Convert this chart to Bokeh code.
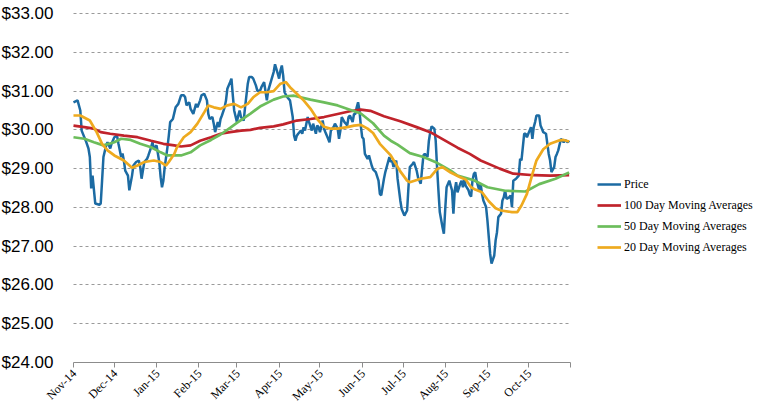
from math import pi
import pandas as pd
from bokeh.plotting import figure
from bokeh.models import (FixedTicker, Legend, LegendItem, Range1d, ColumnDataSource, Grid)
from bokeh.core.properties import value
from bokeh.embed import file_html
from bokeh.resources import INLINE

# ---------------- data ----------------
start_date = "2014-11-01"
month_starts = ["2014-11-01", "2014-12-01", "2015-01-01", "2015-02-01", "2015-03-01",
                "2015-04-01", "2015-05-01", "2015-06-01", "2015-07-01", "2015-08-01",
                "2015-09-01", "2015-10-01", "2015-11-01"]
month_labels = ["Nov-14", "Dec-14", "Jan-15", "Feb-15", "Mar-15", "Apr-15", "May-15",
                "Jun-15", "Jul-15", "Aug-15", "Sep-15", "Oct-15", ""]
y_ticks = [24, 25, 26, 27, 28, 29, 30, 31, 32, 33]
y_labels = ["$%.2f" % v for v in y_ticks]

# days since 2014-11-01
price_day = [0, 3, 5, 6, 9, 11, 12, 13, 14, 16,
             19, 20, 21, 22, 24, 25, 27, 28, 30, 32,
             33, 35, 36, 37, 38, 40, 41, 43, 44, 46,
             48, 49, 50, 52, 54, 55, 57, 58, 59, 61,
             63, 64, 65, 66, 67, 69, 70, 71, 73, 75,
             77, 79, 81, 82, 83, 85, 86, 88, 90, 91,
             93, 94, 96, 98, 99, 100, 102, 103, 104, 106,
             107, 108, 109, 111, 112, 113, 115, 116, 117, 118,
             120, 121, 122, 123, 125, 126, 128, 129, 131, 132,
             134, 135, 137, 138, 140, 142, 143, 145, 147, 148,
             150, 151, 152, 153, 154, 155, 157, 159, 161, 162,
             163, 164, 165, 167, 168, 169, 170, 172, 173, 175,
             176, 178, 179, 180, 181, 183, 184, 185, 187, 188,
             189, 191, 192, 194, 195, 196, 197, 199, 200, 201,
             202, 203, 205, 206, 207, 208, 209, 210, 211, 212,
             213, 214, 216, 217, 218, 219, 220, 222, 224, 225,
             226, 228, 229, 231, 232, 233, 234, 235, 237, 238,
             240, 241, 243, 245, 246, 247, 249, 250, 252, 253,
             255, 256, 257, 258, 260, 261, 262, 263, 265, 266,
             267, 268, 269, 271, 272, 273, 274, 276, 277, 278,
             279, 280, 281, 282, 284, 285, 286, 287, 288, 290,
             291, 292, 293, 294, 295, 296, 298, 299, 300, 301,
             303, 304, 305, 306, 307, 309, 310, 311, 312, 314,
             315, 316, 317, 318, 320, 321, 322, 323, 325, 326,
             327, 328, 329, 331, 332, 333, 334, 336, 337, 338,
             339, 340, 342, 343, 344, 345, 347, 348, 349, 350,
             351, 353, 354, 355, 356, 358, 359, 360, 361, 363,
             364]
price = [30.71, 30.76, 30.50, 29.98, 29.72, 29.52, 29.30, 28.49, 28.82, 28.10,
         28.07, 28.10, 28.69, 29.30, 29.60, 29.68, 29.52, 29.65, 29.81, 29.85,
         29.65, 29.30, 29.39, 29.21, 28.95, 28.82, 28.44, 28.82, 29.08, 29.17,
         29.21, 29.04, 28.74, 29.17, 29.25, 29.34, 29.55, 29.68, 29.51, 29.60,
         29.17, 28.78, 28.52, 28.69, 29.04, 29.55, 29.85, 30.20, 30.28, 30.58,
         30.67, 30.89, 30.89, 30.84, 30.63, 30.71, 30.54, 30.41, 30.67, 30.58,
         30.76, 30.89, 30.93, 30.76, 30.41, 30.28, 30.33, 30.16, 29.94, 30.20,
         30.07, 30.28, 30.37, 30.58, 30.76, 31.06, 31.23, 31.32, 30.89, 30.50,
         30.20, 30.37, 30.50, 30.33, 30.24, 30.58, 31.19, 31.36, 31.36, 31.32,
         31.14, 31.01, 31.01, 31.10, 31.23, 30.76, 31.01, 31.25, 31.49, 31.69,
         31.45, 31.32, 31.53, 31.66, 31.40, 30.97, 30.84, 30.76, 30.33, 29.85,
         29.72, 29.85, 29.90, 29.98, 29.90, 30.07, 29.98, 30.33, 30.20, 29.98,
         30.16, 29.90, 30.11, 30.07, 29.94, 30.24, 30.03, 29.94, 29.77, 29.68,
         29.98, 30.07, 30.16, 30.03, 29.77, 29.98, 30.33, 30.20, 30.16, 30.11,
         30.33, 30.37, 30.20, 30.41, 30.41, 30.58, 30.71, 30.50, 30.11, 29.81,
         29.77, 29.38, 29.25, 29.34, 29.21, 29.08, 28.98, 28.91, 28.69, 28.35,
         28.31, 28.74, 28.91, 29.17, 29.30, 29.17, 29.21, 29.04, 29.21, 28.74,
         28.18, 27.96, 27.79, 27.92, 28.52, 29.04, 29.12, 29.17, 28.95, 28.78,
         28.61, 28.99, 29.34, 29.38, 29.30, 29.72, 29.94, 30.09, 30.03, 29.72,
         29.04, 28.44, 27.88, 27.49, 27.32, 27.96, 28.52, 28.69, 28.56, 28.44,
         27.84, 28.44, 28.65, 28.39, 28.61, 28.69, 28.52, 28.74, 28.56, 28.45,
         28.33, 28.28, 28.69, 28.86, 28.91, 28.69, 28.44, 28.61, 28.35, 28.18,
         28.01, 27.66, 27.23, 26.80, 26.55, 26.76, 27.15, 27.36, 27.75, 27.84,
         28.18, 28.26, 28.44, 28.22, 28.26, 28.31, 28.01, 28.69, 28.74, 28.78,
         28.82, 29.25, 29.21, 29.90, 29.90, 29.81, 29.90, 30.07, 29.77, 30.07,
         30.20, 30.37, 30.37, 30.11, 30.03, 29.94, 29.90, 29.64, 29.38, 29.21,
         28.91, 29.04, 29.30, 29.38, 29.47, 29.77, 29.72, 29.68, 29.74, 29.68,
         29.72]

ma100_day = [0, 8, 15, 20, 27, 37, 47, 57, 66, 74, 79, 86, 93, 101, 108, 115, 123, 130,
             137, 147, 154, 164, 174, 184, 194, 203, 211, 218, 228, 240, 252, 262, 272,
             282, 291, 299, 313, 323, 338, 350, 364]
ma100 = [30.11, 30.07, 30.03, 29.94, 29.90, 29.85, 29.81, 29.72, 29.64, 29.60, 29.57, 29.60,
         29.72, 29.81, 29.90, 29.94, 29.98, 30.00, 30.05, 30.09, 30.14, 30.24, 30.28, 30.33,
         30.41, 30.48, 30.52, 30.49, 30.35, 30.22, 30.07, 29.94, 29.74, 29.54, 29.38, 29.21,
         29.00, 28.87, 28.83, 28.82, 28.83]

ma50_day = [0, 8, 15, 22, 30, 35, 42, 49, 57, 64, 69, 79, 86, 93, 101, 108, 115, 120,
            130, 137, 147, 154, 162, 174, 184, 194, 203, 211, 220, 228, 233, 238, 247,
            257, 267, 277, 282, 294, 304, 317, 332, 342, 354, 364]
ma50 = [29.81, 29.77, 29.68, 29.60, 29.68, 29.77, 29.74, 29.64, 29.55, 29.42, 29.34, 29.34,
        29.42, 29.60, 29.74, 29.88, 30.05, 30.18, 30.42, 30.60, 30.78, 30.86, 30.88, 30.78,
        30.71, 30.63, 30.52, 30.42, 30.17, 29.85, 29.72, 29.62, 29.40, 29.30, 29.15, 28.95,
        28.82, 28.70, 28.52, 28.43, 28.41, 28.60, 28.74, 28.90]

ma20_day = [0, 5, 12, 17, 21, 25, 30, 37, 43, 47, 52, 59, 64, 68, 70, 74, 76, 81, 86,
            91, 96, 99, 103, 108, 113, 118, 123, 128, 132, 137, 142, 147, 152, 156, 159,
            164, 169, 174, 179, 184, 189, 194, 201, 206, 211, 216, 220, 225, 233, 240,
            245, 247, 255, 262, 267, 271, 277, 284, 288, 292, 295, 300, 305, 310, 314,
            322, 326, 329, 333, 337, 340, 345, 350, 356, 360, 364]
ma20 = [30.37, 30.37, 30.24, 29.94, 29.64, 29.47, 29.34, 29.21, 29.02, 29.08, 29.17, 29.21,
        29.17, 29.08, 29.17, 29.38, 29.55, 29.81, 29.94, 30.16, 30.45, 30.63, 30.58, 30.54,
        30.63, 30.67, 30.58, 30.67, 30.84, 30.97, 30.97, 31.00, 31.19, 31.23, 31.10, 30.93,
        30.76, 30.55, 30.28, 30.08, 30.03, 30.03, 30.07, 30.11, 30.13, 30.03, 29.92, 29.64,
        29.34, 28.93, 28.69, 28.65, 28.74, 28.78, 28.99, 29.04, 28.90, 28.78, 28.72, 28.52,
        28.46, 28.39, 28.16, 27.98, 27.92, 27.88, 27.88, 28.05, 28.35, 28.86, 29.21, 29.50,
        29.64, 29.72, 29.74, 29.70]

series_names = ["Price", "100 Day Moving Averages", "50 Day Moving Averages",
                "20 Day Moving Averages"]
series_colors = ["#1c6ba3", "#c0232b", "#6cbd5b", "#eeaa1f"]

# ---------------- figure ----------------
start = pd.Timestamp(start_date)
tick_days = [int((pd.Timestamp(d) - start).days) for d in month_starts]

# The frame covers the whole canvas so that the slanted month labels, the
# dollar labels and the legend (all outside the plotted area) are not clipped.
p = figure(frame_width=768, frame_height=402, output_backend="svg", toolbar_location=None,
           x_range=Range1d(-53.6, 510.4), y_range=Range1d(22.97, 33.335),
           min_border_left=0, min_border_right=0, min_border_top=0,
           min_border_bottom=0)
p.outline_line_color = None
p.background_fill_color = "white"
p.border_fill_color = "white"

# y axis: labels drawn as text at the left of the plotted area
p.yaxis.visible = False
y_src = ColumnDataSource(dict(x=[tick_days[0]] * len(y_ticks), y=y_ticks, text=y_labels))
p.text(x="x", y="y", text="text", source=y_src, x_offset=-20,
       text_align="right", text_baseline="middle",
       text_font=value("Liberation Sans"), text_font_size=value("17px"),
       text_color="#000000")

# x axis: line + downward ticks at $24
p.xaxis.fixed_location = y_ticks[0]
p.xaxis.bounds = (tick_days[0], tick_days[-1])
p.xaxis.ticker = FixedTicker(ticks=tick_days)
p.xaxis.axis_line_color = "#8c8c8c"
p.xaxis.major_tick_line_color = "#8c8c8c"
p.xaxis.minor_tick_line_color = None
p.xaxis.major_tick_out = 0
p.xaxis.major_tick_in = -5
p.xaxis.major_label_text_color = None

# month labels, slanted, below the axis line
lab_src = ColumnDataSource(dict(x=tick_days, y=[y_ticks[0]] * len(tick_days),
                                text=month_labels))
p.text(x="x", y="y", text="text", source=lab_src, angle=pi / 4,
       text_align="right", text_baseline="middle", y_offset=9, x_offset=1,
       text_font=value("Liberation Serif"), text_font_size=value("12px"),
       text_color="#000000")

# horizontal dashed grid over the plotted span only
p.xgrid.visible = False
if "cross_bounds" in Grid.properties():
    p.ygrid.ticker = FixedTicker(ticks=y_ticks[1:])
    p.ygrid.cross_bounds = (tick_days[0], tick_days[-1])
    p.ygrid.grid_line_color = "#9a9a9a"
    p.ygrid.grid_line_dash = "3 3"
    p.ygrid.grid_line_width = 1
else:
    p.ygrid.visible = False
    g_src = ColumnDataSource(dict(x0=[tick_days[0]] * (len(y_ticks) - 1),
                                  x1=[tick_days[-1]] * (len(y_ticks) - 1),
                                  y=y_ticks[1:]))
    p.segment(x0="x0", x1="x1", y0="y", y1="y", source=g_src, line_color="#9a9a9a",
              line_dash="3 3", line_width=1)

r_price = p.line(price_day, price, line_color=series_colors[0], line_width=2.5)
r100 = p.line(ma100_day, ma100, line_color=series_colors[1], line_width=2.7)
r50 = p.line(ma50_day, ma50, line_color=series_colors[2], line_width=2.7)
r20 = p.line(ma20_day, ma20, line_color=series_colors[3], line_width=2.7)

legend = Legend(items=[LegendItem(label=n, renderers=[r])
                       for n, r in zip(series_names, [r_price, r100, r50, r20])],
                location=(597, 145), padding=0, margin=0, spacing=1,
                glyph_width=24, glyph_height=20, label_height=20, label_standoff=3,
                border_line_color=None, background_fill_alpha=0,
                label_text_font="Liberation Serif", label_text_font_size="12px",
                label_text_color="#000000")
p.add_layout(legend, "center")

open("out.html", "w").write(file_html(p, INLINE))
